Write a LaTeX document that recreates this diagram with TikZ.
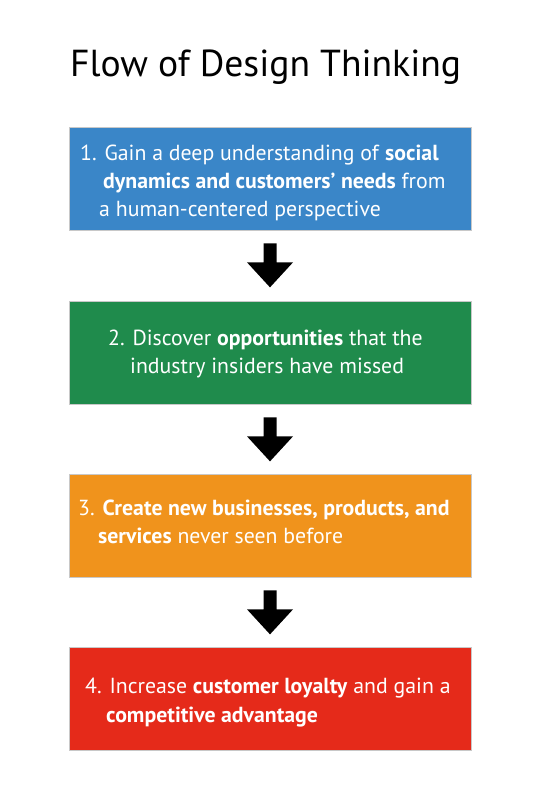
\documentclass[tikz,border=0pt]{standalone}
\usepackage{fontspec}
\setmainfont{PT Sans}
\definecolor{cblue}{HTML}{3A86C8}
\definecolor{cgreen}{HTML}{1F8B4C}
\definecolor{corange}{HTML}{F0931C}
\definecolor{cred}{HTML}{E52A1A}
\definecolor{cedge}{HTML}{C8C8C8}
\begin{document}
\begin{tikzpicture}[x=1pt,y=-1pt,
  box/.style={draw=cedge, line width=0.7pt, minimum width=402pt, minimum height=103pt, inner sep=0pt},
  txt/.style={anchor=base west, inner sep=0pt, text=white, font=\fontsize{21.8}{28}\selectfont},
  ttl/.style={anchor=base west, inner sep=0pt, text=black, font=\fontsize{37.6}{45}\selectfont},
  downarrow/.pic={\fill[black] (-6.5,0) -- (6.5,0) -- (6.5,19) -- (23,19) -- (0,44) -- (-23,19) -- (-6.5,19) -- cycle;}
]
\useasboundingbox (0,0) rectangle (540,800);
\fill[white] (0,0) rectangle (540,800);
\node[ttl] (title) at (70,76) {Flow of Design Thinking};

\node[box, fill=cblue] (b1) at (270,178.5) {};
\node[box, fill=cgreen] (b2) at (270,352.5) {};
\node[box, fill=corange] (b3) at (270,525.5) {};
\node[box, fill=cred] (b4) at (270,699) {};

\node[txt] (b1l1) at (80,160) {1. Gain a deep understanding of \textbf{social}};
\node[txt] (b1l2) at (103,188) {\textbf{dynamics and customers’ needs} from};
\node[txt] (b1l3) at (99,216) {a human-centered perspective};

\node[txt] (b2l1) at (108,345) {2. Discover \textbf{opportunities} that the};
\node[txt] (b2l2) at (130,373) {industry insiders have missed};

\node[txt] (b3l1) at (78,515) {3. \textbf{Create new businesses, products, and}};
\node[txt] (b3l2) at (98,543) {\textbf{services} never seen before};

\node[txt] (b4l1) at (85,693) {4. Increase \textbf{customer loyalty} and gain a};
\node[txt] (b4l2) at (106,722) {\textbf{competitive advantage}};

\pic at ([yshift=-13pt]b1.south) {downarrow};
\pic at ([yshift=-13pt]b2.south) {downarrow};
\pic at ([yshift=-13pt]b3.south) {downarrow};
\end{tikzpicture}
\end{document}
